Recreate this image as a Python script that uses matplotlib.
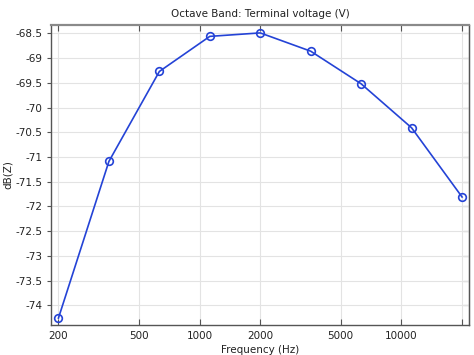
import matplotlib
matplotlib.use("Agg")
import matplotlib.pyplot as plt
from matplotlib.ticker import FixedLocator, FixedFormatter, NullLocator, NullFormatter

freqs = [200, 355.7, 632.5, 1124.7, 2000, 3556.6, 6324.6, 11246.8, 20000]
levels = [-74.26, -71.09, -69.27, -68.56, -68.49, -68.86, -69.52, -70.41, -71.81]
xticks = [200, 500, 1000, 2000, 5000, 10000, 20000]
xticklabels = ["200", "500", "1000", "2000", "5000", "10000", ""]
yticks = [-74, -73.5, -73, -72.5, -72, -71.5, -71, -70.5, -70, -69.5, -69, -68.5]
yticklabels = ["-74", "-73.5", "-73", "-72.5", "-72", "-71.5", "-71", "-70.5", "-70", "-69.5", "-69", "-68.5"]

plt.rcParams['font.family'] = ['DejaVu Sans']
fig = plt.figure(figsize=(4.74, 3.55), dpi=100)
ax = fig.add_axes([51/474, 1-325/355, (469-51)/474, (325-25)/355])

ax.plot(freqs, levels, color='#2443d6', lw=1.2, marker='o', ms=5.5,
        mfc='none', mec='#2443d6', mew=1.2, clip_on=False, zorder=3)
ax.set_xscale('log')
ax.set_xlim(183.7, 21650)
ax.set_ylim(-74.40, -68.33)
ax.xaxis.set_major_locator(FixedLocator(xticks))
ax.xaxis.set_major_formatter(FixedFormatter(xticklabels))
ax.xaxis.set_minor_locator(NullLocator())
ax.yaxis.set_major_locator(FixedLocator(yticks))
ax.yaxis.set_major_formatter(FixedFormatter(yticklabels))

ax.grid(True, color='#e3e3e3', lw=0.8)
ax.set_axisbelow(True)
for name, s in ax.spines.items():
    s.set_color('#555555')
    s.set_linewidth(1.0)
ax.spines['top'].set_color('#8a8a8a')
ax.spines['top'].set_linewidth(1.6)
ax.tick_params(axis='x', direction='in', length=4, width=0.8, color='#555555',
               labelsize=7.5, labelcolor='#222222', top=True, bottom=True, pad=4)
ax.tick_params(axis='y', direction='out', length=3, width=0.8, color='#555555',
               labelsize=7.5, labelcolor='#222222', left=True, right=False, pad=3)

sec = ax.secondary_yaxis('right')
sec.yaxis.set_major_locator(FixedLocator(yticks))
sec.yaxis.set_major_formatter(NullFormatter())
sec.tick_params(direction='in', length=4, width=0.8, color='#555555')
sec.spines['right'].set_color('#555555')

ax.set_title('Octave Band: Terminal voltage (V)', fontsize=7.5, color='#222222', pad=6)
ax.set_xlabel('Frequency (Hz)', fontsize=7.5, color='#222222', labelpad=3)
ax.set_ylabel('dB(Z)', fontsize=7.5, color='#222222')
ax.yaxis.set_label_coords((13 - 51) / 418, 0.5)

fig.savefig('out.png', dpi=100)
